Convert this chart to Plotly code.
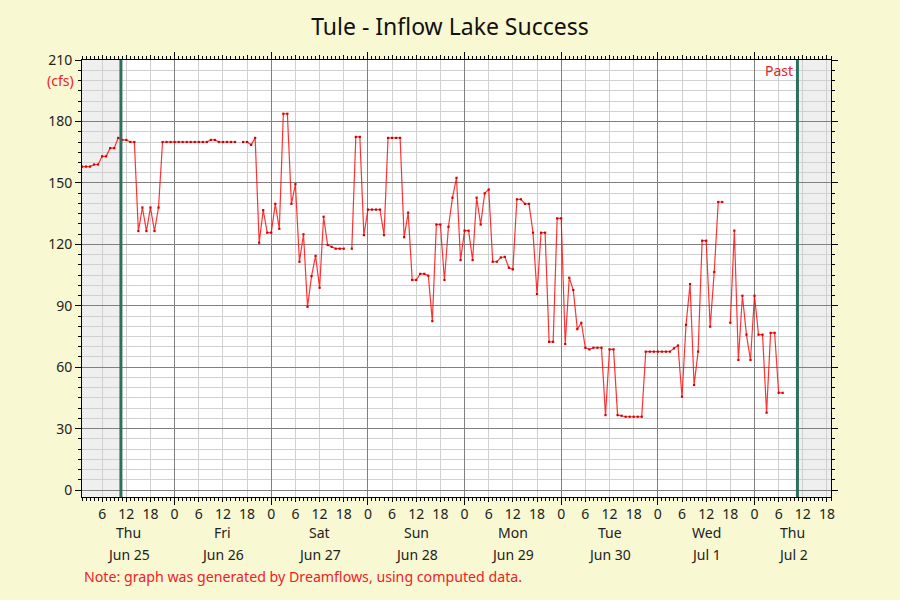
import plotly.graph_objects as go
import pandas as pd

# ---------------- data ----------------
title_text = "Tule - Inflow Lake Success"
start_time = "2020-06-25 01:00"           # first hourly reading
x_range = ["2020-06-25 01:00", "2020-07-02 19:00"]
past_start = "2020-06-25 10:40"           # left green marker (one week before now)
now_time = "2020-07-02 10:40"             # right green marker ("Past" boundary)

flow_cfs = [
    158, 158, 158, 159, 159, 163, 163, 167, 167, 172,
    171, 171, 170, 170, 126.5, 138, 126.5, 138, 126.5, 138,
    170, 170, 170, 170, 170, 170, 170, 170, 170, 170,
    170, 170, 171, 171, 170, 170, 170, 170, 170, None,
    170, 170, 168.6, 172, 120.8, 136.7, 125.7, 125.7, 139.8, 127.6,
    183.8, 183.8, 139.8, 149.4, 111.5, 124.9, 89.5, 104.5, 114.4, 98.8,
    133.5, 119.7, 118.8, 117.9, 117.9, 117.9, None, 117.9, 172.5, 172.5,
    124.5, 137, 137, 137, 137, 124.5, 172, 172, 172, 172,
    123.5, 135.5, 102.6, 102.6, 105.6, 105.6, 104.7, 82.5, 129.7, 129.7,
    102.6, 128.6, 142.8, 152.5, 112.3, 126.7, 126.7, 112.3, 142.8, 129.7,
    144.9, 146.8, 111.5, 111.5, 113.6, 113.9, 108.6, 107.8, 142, 142,
    139.8, 139.8, 125.7, 95.7, 125.7, 125.7, 72.4, 72.4, 132.7, 132.7,
    71.3, 103.7, 97.7, 78.6, 81.7, 69.5, 68.7, 69.5, 69.5, 69.5,
    36.6, 68.7, 68.7, 36.6, 36.3, 35.8, 35.8, 35.8, 35.8, 35.8,
    67.6, 67.6, 67.6, 67.6, 67.6, 67.6, 67.6, 69.2, 70.6, 45.6,
    80.7, 100.6, 51.3, 67.6, 121.8, 121.8, 79.8, 106.5, 140.7, 140.7,
    None, 81.7, 126.7, 63.5, 94.9, 75.9, 63.5, 94.9, 75.9, 75.9,
    37.8, 76.8, 76.8, 47.5, 47.5,
]

day_starts = ["2020-06-25", "2020-06-26", "2020-06-27", "2020-06-28",
              "2020-06-29", "2020-06-30", "2020-07-01", "2020-07-02"]
day_names = ["Thu", "Fri", "Sat", "Sun", "Mon", "Tue", "Wed", "Thu"]
day_dates = ["Jun 25", "Jun 26", "Jun 27", "Jun 28",
             "Jun 29", "Jun 30", "Jul 1", "Jul 2"]

y_range = [-3.4, 210.05]
unit_label = "(cfs)"
past_label = "Past"
note_text = "Note: graph was generated by Dreamflows, using computed data."

# ---------------- style ----------------
PAPER = "#F8F8D2"
MAJOR = "#808080"
MINOR = "#D0D0D0"
SHADE = "#EFEFEF"
GREEN = "#2F6F5E"
NOTE_RED = "#F0202A"
FONT = "Noto Sans"

times = pd.date_range(start_time, periods=len(flow_cfs), freq="h")

fig = go.Figure()

fig.add_trace(go.Scatter(
    x=times, y=flow_cfs, mode="lines+markers",
    line=dict(color="rgba(255,0,0,0.8)", width=1.2),
    marker=dict(symbol="square", size=2.2, color="#D00000"),
    connectgaps=False, hoverinfo="x+y",
))
# helper trace so that the day-grid axis is drawn
fig.add_trace(go.Scatter(x=[], y=[], xaxis="x2", yaxis="y", showlegend=False, hoverinfo="skip"))

# shaded regions outside the one-week window
fig.add_shape(type="rect", xref="x", yref="paper", x0=x_range[0], x1=past_start,
              y0=0, y1=1, fillcolor=SHADE, line=dict(width=0), layer="below")
fig.add_shape(type="rect", xref="x", yref="paper", x0=now_time, x1=x_range[1],
              y0=0, y1=1, fillcolor=SHADE, line=dict(width=0), layer="below")
# green markers
for t in (past_start, now_time):
    fig.add_shape(type="line", xref="x", yref="paper", x0=t, x1=t, y0=0, y1=1,
                  line=dict(color=GREEN, width=3), layer="above")

# day labels, centred on visible part of each day
rs, re_ = pd.Timestamp(x_range[0]), pd.Timestamp(x_range[1])
annotations = []
for ds, nm, dt in zip(day_starts, day_names, day_dates):
    a = max(pd.Timestamp(ds), rs)
    b = min(pd.Timestamp(ds) + pd.Timedelta(days=1), re_)
    mid = a + (b - a) / 2
    annotations.append(dict(x=mid, y=-0.0817, xref="x", yref="paper", text=nm,
                            showarrow=False, xanchor="center", yanchor="middle",
                            font=dict(size=14, color="#222")))
    annotations.append(dict(x=mid, y=-0.1327, xref="x", yref="paper", text=dt,
                            showarrow=False, xanchor="center", yanchor="middle",
                            font=dict(size=14, color="#222")))

annotations.append(dict(x=-0.0287, y=0.9526, xref="paper", yref="paper", text=unit_label,
                        showarrow=False, xanchor="center", yanchor="middle",
                        font=dict(size=14, color=NOTE_RED)))
annotations.append(dict(x=now_time, y=0.975, xref="x", yref="paper", text=past_label,
                        showarrow=False, xanchor="right", yanchor="middle", xshift=-2,
                        font=dict(size=14, color=NOTE_RED)))
annotations.append(dict(x=0, y=-0.1824, xref="paper", yref="paper", text=note_text,
                        showarrow=False, xanchor="left", yanchor="middle",
                        font=dict(size=14.2, color=NOTE_RED)))

fig.update_layout(
    width=900, height=600,
    margin=dict(l=82, r=69, t=60, b=103),
    paper_bgcolor=PAPER, plot_bgcolor="white",
    showlegend=False,
    font=dict(family=FONT, size=14, color="#222"),
    title=dict(text=title_text, x=0.5, xanchor="center", xref="container",
               y=1 - 27 / 600, yanchor="middle", yref="container",
               font=dict(size=23, color="#111")),
    xaxis=dict(type="date", range=x_range, tick0="2020-06-25", dtick=6 * 3600000,
               tickformat="%-H", showgrid=False, zeroline=False,
               ticks="outside", ticklen=4, tickcolor="black",
               showline=True, linecolor="black", linewidth=1, mirror="ticks",
               minor=dict(dtick=3600000, tick0="2020-06-25", ticks="outside", ticklen=3,
                          tickcolor="black", showgrid=False)),
    xaxis2=dict(type="date", overlaying="x", anchor="y", side="bottom", range=x_range,
                tick0="2020-06-25", dtick=86400000, showticklabels=False,
                ticks="outside", ticklen=7, tickcolor="black",
                showgrid=True, gridcolor=MAJOR, gridwidth=1, zeroline=False,
                showline=False, mirror="ticks",
                minor=dict(dtick=6 * 3600000, tick0="2020-06-25", showgrid=True,
                           gridcolor=MINOR, ticks="")),
    yaxis=dict(range=y_range, tick0=0, dtick=30, showgrid=True, gridcolor=MAJOR,
               zeroline=False, ticks="outside", ticklen=6, tickcolor="black",
               showline=True, linecolor="black", linewidth=1, mirror="ticks",
               minor=dict(dtick=5, tick0=0, showgrid=True, gridcolor=MINOR,
                          ticks="outside", ticklen=3, tickcolor="black")),
    annotations=annotations,
)

fig.write_html("out.html")
